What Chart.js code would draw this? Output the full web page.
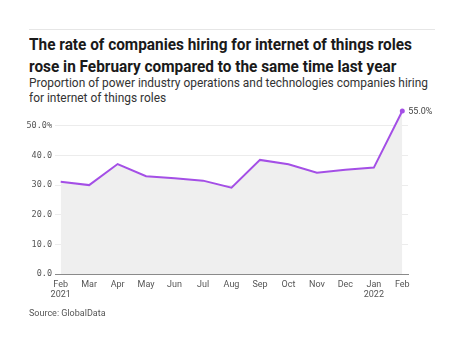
<!DOCTYPE html>
<html>
<head>
<meta charset="utf-8">
<script src="https://cdn.jsdelivr.net/npm/chart.js@4"></script>
<style>
  html, body { margin: 0; padding: 0; background: #fff; }
  #wrap { position: relative; width: 464px; height: 348px; overflow: hidden; font-family: Roboto, sans-serif; }
  #rule { position: absolute; left: 29px; top: 29px; width: 406px; height: 1px; background: #e6e6e6; }
  .line { position: absolute; left: 29px; white-space: nowrap; }
  .t { font-size: 17px; font-weight: 700; color: #1a1a1a; }
  .s { font-size: 13px; color: #333; }
  #src { position: absolute; left: 29px; top: 308px; font-size: 9px; color: #555; white-space: nowrap; }
  #cv { position: absolute; left: 0; top: 0; }
</style>
</head>
<body>
<div id="wrap">
  <div id="rule"></div>
  <div class="line t" id="t1" style="top:34px">The rate of companies hiring for internet of things roles</div>
  <div class="line t" id="t2" style="top:56px">rose in February compared to the same time last year</div>
  <div class="line s" id="s1" style="top:75px">Proportion of power industry operations and technologies companies hiring</div>
  <div class="line s" id="s2" style="top:90px">for internet of things roles</div>
  <canvas id="cv" width="464" height="348"></canvas>
  <div id="src">Source: GlobalData</div>
</div>
<script>
// Monthly share of companies hiring for IoT roles, Feb 2021 – Feb 2022
const months = ["Feb", "Mar", "Apr", "May", "Jun", "Jul", "Aug", "Sep", "Oct", "Nov", "Dec", "Jan", "Feb"];
const years = ["2021", "", "", "", "", "", "", "", "", "", "", "2022", ""];
const shares = [31.1, 30.0, 37.1, 33.0, 32.3, 31.5, 29.1, 38.5, 37.0, 34.2, 35.2, 35.9, 55.0];
const yTicks = [0, 10, 20, 30, 40, 50];

// stretch the heading lines horizontally to their column width
function fitWidth(id, width) {
  const el = document.getElementById(id);
  const w = el.getBoundingClientRect().width;
  el.style.transformOrigin = '0 0';
  el.style.transform = 'scaleX(' + (width / w) + ')';
}
fitWidth('t1', 383);
fitWidth('s1', 399);
const t2 = document.getElementById('t2');
t2.style.transformOrigin = '0 0';
t2.style.transform = document.getElementById('t1').style.transform;
const s2 = document.getElementById('s2');
s2.style.transformOrigin = '0 0';
s2.style.transform = document.getElementById('s1').style.transform;

const points = shares.map((v, i) => ({ x: i, y: v }));

const lastLabel = {
  id: 'lastLabel',
  afterDatasetsDraw(chart) {
    const meta = chart.getDatasetMeta(0);
    const pt = meta.data[meta.data.length - 1];
    const ctx = chart.ctx;
    ctx.save();
    ctx.font = '9px Roboto, sans-serif';
    ctx.fillStyle = '#444';
    ctx.textAlign = 'left';
    ctx.textBaseline = 'middle';
    ctx.fillText(shares[shares.length - 1].toFixed(1) + '%', pt.x + 6, pt.y + 1);
    ctx.restore();
  }
};

new Chart(document.getElementById('cv'), {
  type: 'line',
  data: {
    datasets: [{
      data: points,
      borderColor: '#a44fe6',
      borderWidth: 2,
      backgroundColor: '#efefef',
      fill: 'origin',
      tension: 0,
      pointRadius: points.map((p, i) => i === points.length - 1 ? 2.5 : 0),
      pointBackgroundColor: '#a44fe6',
      pointBorderWidth: 0,
      clip: false
    }]
  },
  options: {
    responsive: false,
    animation: false,
    layout: { padding: { left: 0, top: 111, right: 56, bottom: 0 } },
    plugins: { legend: { display: false }, tooltip: { enabled: false } },
    scales: {
      x: {
        type: 'linear',
        min: -0.2,
        max: 12.2,
        afterBuildTicks(scale) { scale.ticks = months.map((m, i) => ({ value: i })); },
        afterFit(scale) { scale.height = 74; },
        grid: { display: false, drawTicks: false },
        border: { display: true, color: '#8a8a8a', width: 1 },
        ticks: {
          padding: 5,
          maxRotation: 0,
          autoSkip: false,
          color: '#555',
          font: { family: 'Roboto, sans-serif', size: 9 },
          callback(v) { const i = Math.round(v); return years[i] ? [months[i], years[i]] : months[i]; }
        }
      },
      y: {
        min: 0,
        max: 55,
        afterBuildTicks(scale) { scale.ticks = yTicks.map(v => ({ value: v })); },
        afterFit(scale) { scale.width = 55; },
        grid: { color: '#ececec', drawTicks: false, lineWidth: 1 },
        border: { display: false },
        ticks: {
          padding: 3,
          color: '#555',
          font: { family: '"DejaVu Sans Mono", monospace', size: 8.5 },
          callback(v) { return v === 50 ? v.toFixed(1) + '%' : v.toFixed(1); }
        }
      }
    }
  },
  plugins: [lastLabel]
});
</script>
</body>
</html>
